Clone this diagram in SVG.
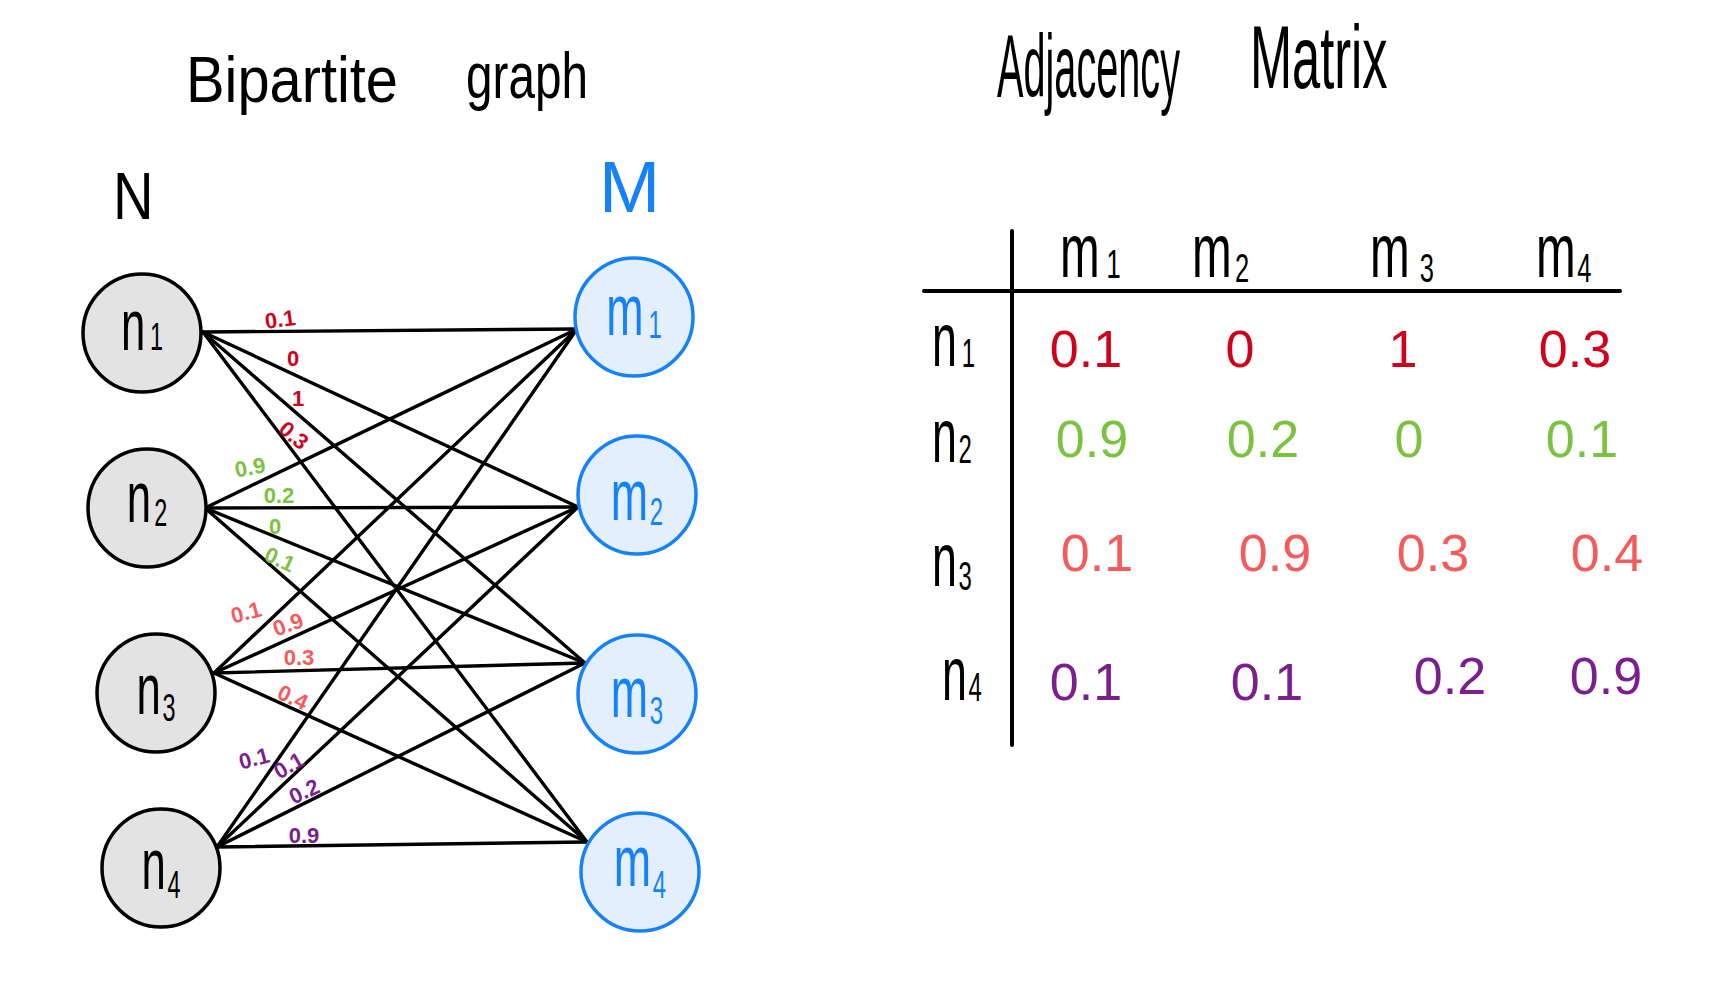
<svg xmlns="http://www.w3.org/2000/svg" width="1709" height="1000" viewBox="0 0 1709 1000">
<style>
text{font-family:"Liberation Sans",Arial,sans-serif;}
.title{font-size:64px;fill:#000;}
.nnode circle{fill:#e3e3e3;stroke:#000;stroke-width:3.5;}
.mnode circle{fill:#e4effd;stroke:#1682f7;stroke-width:3.5;}
.nnode text{font-size:56px;fill:#000;text-anchor:middle;}
.mnode text{font-size:56px;fill:#1682f7;text-anchor:middle;}
.sub{font-size:30px;}
#edges line{stroke:#000;stroke-width:3.4;stroke-linecap:round;}
.el{font-size:22px;font-weight:bold;text-anchor:middle;}
.r1{fill:#d0021b;}
.r2{fill:#7cc242;}
.r3{fill:#f55b5b;}
.r4{fill:#7b1f8c;}
.hd{font-size:56px;fill:#000;}
.cell{font-size:52px;text-anchor:middle;}
.grid{stroke:#000;stroke-width:4;stroke-linecap:round;}
</style>

<g id="titles">
  <text class="title" x="186" y="102" textLength="212" lengthAdjust="spacingAndGlyphs">Bipartite</text>
  <text class="title" x="466" y="98" textLength="122" lengthAdjust="spacingAndGlyphs">graph</text>
  <text class="title" font-size="66" transform="translate(997,97) scale(0.62,1.4)">Adjacency</text>
  <text class="title" font-size="66" transform="translate(1250,88) scale(0.79,1.4)">Matrix</text>
  <text font-size="66" fill="#000" transform="translate(113,219) scale(0.85,1)">N</text>
  <text font-size="72" fill="#1682f7" transform="translate(599,212) scale(1.02,1)">M</text>
</g>

<g id="edges">
  <line x1="203" y1="332" x2="577" y2="329"/>
  <line x1="203" y1="332" x2="578" y2="507"/>
  <line x1="203" y1="332" x2="585" y2="663"/>
  <line x1="203" y1="332" x2="587" y2="842"/>
  <line x1="205" y1="508" x2="577" y2="329"/>
  <line x1="205" y1="508" x2="578" y2="507"/>
  <line x1="205" y1="508" x2="585" y2="663"/>
  <line x1="205" y1="508" x2="587" y2="842"/>
  <line x1="214" y1="673" x2="577" y2="329"/>
  <line x1="214" y1="673" x2="578" y2="507"/>
  <line x1="214" y1="673" x2="585" y2="663"/>
  <line x1="214" y1="673" x2="587" y2="842"/>
  <line x1="217" y1="847" x2="577" y2="329"/>
  <line x1="217" y1="847" x2="578" y2="507"/>
  <line x1="217" y1="847" x2="585" y2="663"/>
  <line x1="217" y1="847" x2="587" y2="842"/>
</g>

<g id="edge-labels">
  <text class="el r1" x="280" y="327" transform="rotate(-8 280 319)">0.1</text>
  <text class="el r1" x="293" y="366">0</text>
  <text class="el r1" x="298" y="406">1</text>
  <text class="el r1" x="294" y="443" transform="rotate(40 294 435)">0.3</text>
  <text class="el r2" x="250" y="475" transform="rotate(-10 250 467)">0.9</text>
  <text class="el r2" x="279" y="503">0.2</text>
  <text class="el r2" x="275" y="534">0</text>
  <text class="el r2" x="280" y="567" transform="rotate(25 280 559)">0.1</text>
  <text class="el r3" x="246" y="620" transform="rotate(-15 246 612)">0.1</text>
  <text class="el r3" x="288" y="632" transform="rotate(-20 288 624)">0.9</text>
  <text class="el r3" x="299" y="665">0.3</text>
  <text class="el r3" x="293" y="705" transform="rotate(25 293 697)">0.4</text>
  <text class="el r4" x="254" y="766" transform="rotate(-15 254 758)">0.1</text>
  <text class="el r4" x="289" y="773" font-size="17" transform="rotate(-30 289 766)">0.1</text>
  <text class="el r4" x="304" y="799" transform="rotate(-25 304 791)">0.2</text>
  <text class="el r4" x="304" y="843">0.9</text>
</g>

<g id="n1" class="nnode"><circle cx="142" cy="333" r="59"/><text transform="translate(142,350) scale(0.78,1.3)">n<tspan class="sub" dx="6">1</tspan></text></g>
<g id="n2" class="nnode"><circle cx="147" cy="508" r="59"/><text transform="translate(147,522) scale(0.78,1.3)">n<tspan class="sub" dx="4" dy="3">2</tspan></text></g>
<g id="n3" class="nnode"><circle cx="156" cy="693" r="59"/><text transform="translate(156,714) scale(0.78,1.3)">n<tspan class="sub" dx="2" dy="5">3</tspan></text></g>
<g id="n4" class="nnode"><circle cx="161" cy="868" r="59"/><text transform="translate(161,889) scale(0.78,1.3)">n<tspan class="sub" dx="2" dy="7">4</tspan></text></g>

<g id="m1" class="mnode"><circle cx="634" cy="317" r="59"/><text transform="translate(634,335) scale(0.8,1.3)">m<tspan class="sub" dx="6" dy="2">1</tspan></text></g>
<g id="m2" class="mnode"><circle cx="637" cy="495" r="59"/><text transform="translate(637,520) scale(0.8,1.3)">m<tspan class="sub" dx="2" dy="4">2</tspan></text></g>
<g id="m3" class="mnode"><circle cx="637" cy="694" r="59"/><text transform="translate(637,717) scale(0.8,1.3)">m<tspan class="sub" dx="2" dy="5">3</tspan></text></g>
<g id="m4" class="mnode"><circle cx="640" cy="872" r="59"/><text transform="translate(640,886) scale(0.8,1.3)">m<tspan class="sub" dx="2" dy="9">4</tspan></text></g>

<g id="adjacency-matrix">
  <line class="grid" x1="924" y1="291" x2="1620" y2="291"/>
  <line class="grid" x1="1012" y1="231" x2="1012" y2="745"/>
  <text class="hd" transform="translate(1060,277) scale(0.85,1.35)">m<tspan class="sub" dx="8" dy="1">1</tspan></text>
  <text class="hd" transform="translate(1192,277) scale(0.85,1.35)">m<tspan class="sub" dx="4" dy="4">2</tspan></text>
  <text class="hd" transform="translate(1370,277) scale(0.85,1.35)">m<tspan class="sub" dx="12" dy="4">3</tspan></text>
  <text class="hd" transform="translate(1536,277) scale(0.85,1.35)">m<tspan class="sub" dx="2" dy="4">4</tspan></text>
  <text class="hd" transform="translate(932,366) scale(0.8,1.35)">n<tspan class="sub" dx="6" dy="1">1</tspan></text>
  <text class="hd" transform="translate(932,462) scale(0.8,1.35)">n<tspan class="sub" dx="2" dy="1">2</tspan></text>
  <text class="hd" transform="translate(932,586) scale(0.8,1.35)">n<tspan class="sub" dx="2" dy="3">3</tspan></text>
  <text class="hd" transform="translate(942,700) scale(0.8,1.35)">n<tspan class="sub" dx="2" dy="1">4</tspan></text>

  <text class="cell r1" x="1086" y="367">0.1</text>
  <text class="cell r1" x="1240" y="367">0</text>
  <text class="cell r1" x="1403" y="367">1</text>
  <text class="cell r1" x="1575" y="367">0.3</text>

  <text class="cell r2" x="1092" y="457">0.9</text>
  <text class="cell r2" x="1263" y="457">0.2</text>
  <text class="cell r2" x="1409" y="457">0</text>
  <text class="cell r2" x="1582" y="457">0.1</text>

  <text class="cell r3" x="1097" y="571">0.1</text>
  <text class="cell r3" x="1275" y="571">0.9</text>
  <text class="cell r3" x="1433" y="571">0.3</text>
  <text class="cell r3" x="1607" y="571">0.4</text>

  <text class="cell r4" x="1086" y="700">0.1</text>
  <text class="cell r4" x="1267" y="700">0.1</text>
  <text class="cell r4" x="1450" y="694">0.2</text>
  <text class="cell r4" x="1606" y="694">0.9</text>
</g>
</svg>
